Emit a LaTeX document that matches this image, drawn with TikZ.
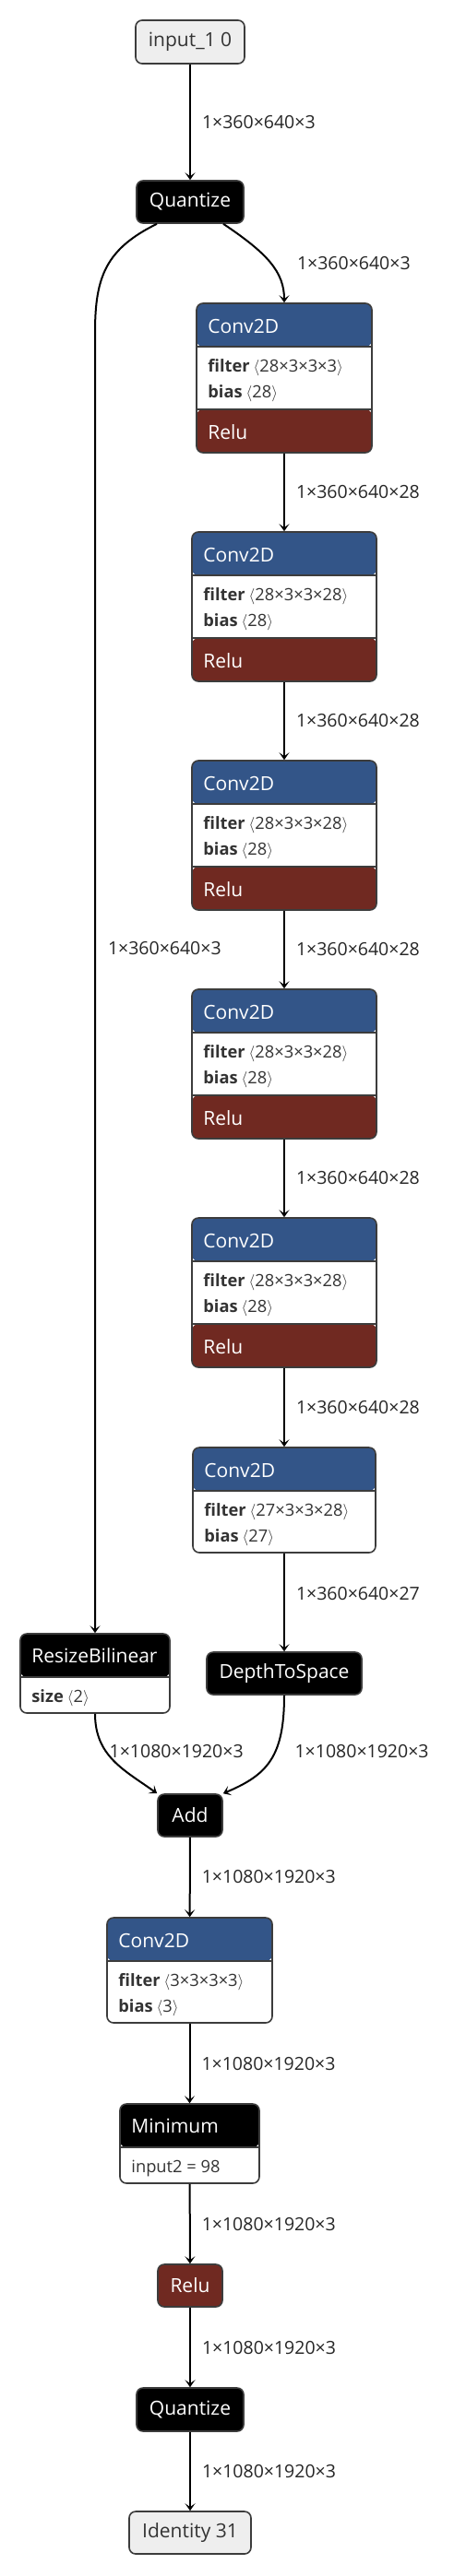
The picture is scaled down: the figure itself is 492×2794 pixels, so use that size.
\documentclass[tikz,border=0pt]{standalone}
\usepackage{fontspec}
\setmainfont{Open Sans}
\usetikzlibrary{arrows.meta}

\definecolor{convblue}{RGB}{51,85,136}
\definecolor{relured}{RGB}{112,41,33}
\definecolor{boxline}{RGB}{60,60,60}
\definecolor{iofill}{RGB}{238,238,238}
\newcommand{\ttlsize}{\fontsize{21}{25}\selectfont}
\newcommand{\attsize}{\fontsize{18.3}{22}\selectfont}
\newcommand{\lblsize}{\fontsize{19.5}{23}\selectfont}
\newcommand{\gap}{\hspace{4pt}}

\tikzset{
  op/.style={draw=boxline, line width=1.6pt, rounded corners=7pt, inner sep=0pt,
    minimum height=46pt, fill=black, text=white, font=\ttlsize},
  io/.style={op, fill=iofill, text=black!80},
  actv/.style={op, fill=relured},
  block/.style={draw=boxline, line width=1.6pt, rounded corners=7pt, inner sep=0pt},
  head/.style={block, preaction={fill=white, path picture={
    \fill[#1] (path picture bounding box.north west) rectangle ([yshift=-47pt]path picture bounding box.north east);
    \draw[boxline, line width=1.6pt] ([yshift=-47pt]path picture bounding box.north west) -- ([yshift=-47pt]path picture bounding box.north east);}}},
  headrelu/.style={block, preaction={fill=white, path picture={
    \fill[convblue] (path picture bounding box.north west) rectangle ([yshift=-47pt]path picture bounding box.north east);
    \fill[relured] (path picture bounding box.south west) rectangle ([yshift=47pt]path picture bounding box.south east);
    \draw[boxline, line width=1.6pt] ([yshift=-47pt]path picture bounding box.north west) -- ([yshift=-47pt]path picture bounding box.north east);
    \draw[boxline, line width=1.6pt] ([yshift=47pt]path picture bounding box.south west) -- ([yshift=47pt]path picture bounding box.south east);}}},
  ttl/.style={anchor=base west, inner sep=0pt, text=white, font=\ttlsize},
  att/.style={anchor=base west, inner sep=0pt, text=black!80, font=\attsize},
  edge/.style={draw, line width=2pt, -{Stealth[length=8pt,width=11pt,inset=4pt]}},
  lbl/.style={anchor=west, inner sep=0pt, xshift=12pt, text=black!85, font=\lblsize}
}

\begin{document}
\begin{tikzpicture}[x=1pt, y=-1pt]
  \path[use as bounding box, fill=white] (0,0) rectangle (492,2794);

  % input and first quantize
  \node[io, minimum width=118pt, minimum height=47pt] (in) at (206,45.5) {input\_1 0};
  \node[op, minimum width=116pt] (q1) at (206,219) {Quantize};

  % conv chain
  \node[headrelu, minimum width=190pt, minimum height=162pt] (c1) at (308,410) {};
  \node[ttl] (c1t) at ([xshift=13pt,yshift=-33pt]c1.north west) {Conv2D};
  \node[att] (c1f) at ([xshift=13pt,yshift=-75pt]c1.north west) {\textbf{filter}\gap $\langle$28×3×3×3$\rangle$};
  \node[att] (c1b) at ([xshift=13pt,yshift=-103pt]c1.north west) {\textbf{bias}\gap $\langle$28$\rangle$};
  \node[ttl] (c1r) at ([xshift=13pt,yshift=15pt]c1.south west) {Relu};

  \node[headrelu, minimum width=200pt, minimum height=162pt] (c2) at (308,658) {};
  \node[ttl] (c2t) at ([xshift=13pt,yshift=-33pt]c2.north west) {Conv2D};
  \node[att] (c2f) at ([xshift=13pt,yshift=-75pt]c2.north west) {\textbf{filter}\gap $\langle$28×3×3×28$\rangle$};
  \node[att] (c2b) at ([xshift=13pt,yshift=-103pt]c2.north west) {\textbf{bias}\gap $\langle$28$\rangle$};
  \node[ttl] (c2r) at ([xshift=13pt,yshift=15pt]c2.south west) {Relu};

  \node[headrelu, minimum width=200pt, minimum height=162pt] (c3) at (308,906) {};
  \node[ttl] (c3t) at ([xshift=13pt,yshift=-33pt]c3.north west) {Conv2D};
  \node[att] (c3f) at ([xshift=13pt,yshift=-75pt]c3.north west) {\textbf{filter}\gap $\langle$28×3×3×28$\rangle$};
  \node[att] (c3b) at ([xshift=13pt,yshift=-103pt]c3.north west) {\textbf{bias}\gap $\langle$28$\rangle$};
  \node[ttl] (c3r) at ([xshift=13pt,yshift=15pt]c3.south west) {Relu};

  \node[headrelu, minimum width=200pt, minimum height=162pt] (c4) at (308,1154) {};
  \node[ttl] (c4t) at ([xshift=13pt,yshift=-33pt]c4.north west) {Conv2D};
  \node[att] (c4f) at ([xshift=13pt,yshift=-75pt]c4.north west) {\textbf{filter}\gap $\langle$28×3×3×28$\rangle$};
  \node[att] (c4b) at ([xshift=13pt,yshift=-103pt]c4.north west) {\textbf{bias}\gap $\langle$28$\rangle$};
  \node[ttl] (c4r) at ([xshift=13pt,yshift=15pt]c4.south west) {Relu};

  \node[headrelu, minimum width=200pt, minimum height=162pt] (c5) at (308,1402) {};
  \node[ttl] (c5t) at ([xshift=13pt,yshift=-33pt]c5.north west) {Conv2D};
  \node[att] (c5f) at ([xshift=13pt,yshift=-75pt]c5.north west) {\textbf{filter}\gap $\langle$28×3×3×28$\rangle$};
  \node[att] (c5b) at ([xshift=13pt,yshift=-103pt]c5.north west) {\textbf{bias}\gap $\langle$28$\rangle$};
  \node[ttl] (c5r) at ([xshift=13pt,yshift=15pt]c5.south west) {Relu};

  \node[head=convblue, minimum width=198pt, minimum height=114pt] (c6) at (308,1627) {};
  \node[ttl] (c6t) at ([xshift=13pt,yshift=-33pt]c6.north west) {Conv2D};
  \node[att] (c6f) at ([xshift=13pt,yshift=-75pt]c6.north west) {\textbf{filter}\gap $\langle$27×3×3×28$\rangle$};
  \node[att] (c6b) at ([xshift=13pt,yshift=-103pt]c6.north west) {\textbf{bias}\gap $\langle$27$\rangle$};

  % upsampling
  \node[head=black, minimum width=162pt, minimum height=86pt] (rb) at (103,1815) {};
  \node[ttl] (rbt) at ([xshift=13pt,yshift=-32pt]rb.north west) {ResizeBilinear};
  \node[att] (rbs) at ([xshift=13pt,yshift=-75pt]rb.north west) {\textbf{size}\gap $\langle$2$\rangle$};
  \node[op, minimum width=168pt] (d2s) at (308,1815) {DepthToSpace};
  \node[op, minimum width=70pt] (add) at (206,1969) {Add};

  % tail
  \node[head=convblue, minimum width=179pt, minimum height=114pt] (c7) at (205.5,2137) {};
  \node[ttl] (c7t) at ([xshift=13pt,yshift=-33pt]c7.north west) {Conv2D};
  \node[att] (c7f) at ([xshift=13pt,yshift=-75pt]c7.north west) {\textbf{filter}\gap $\langle$3×3×3×3$\rangle$};
  \node[att] (c7b) at ([xshift=13pt,yshift=-103pt]c7.north west) {\textbf{bias}\gap $\langle$3$\rangle$};
  \node[head=black, minimum width=151pt, minimum height=86pt] (mn) at (205.5,2325) {};
  \node[ttl] (mnt) at ([xshift=13pt,yshift=-32pt]mn.north west) {Minimum};
  \node[att] (mni) at ([xshift=13pt,yshift=-75pt]mn.north west) {input2 = 98};
  \node[actv, minimum width=70pt] (relu) at (206,2479) {Relu};
  \node[op, minimum width=116pt, minimum height=47pt] (q2) at (206,2613.5) {Quantize};
  \node[io, minimum width=132pt] (out) at (206,2747) {Identity 31};

  % edges
  \draw[edge] (in) -- node[lbl]{1×360×640×3} (q1);
  \draw[edge] ([xshift=36pt]q1.south) .. controls (290,275) and (308,295) .. (c1.north)
    node[lbl, pos=0.5, xshift=16pt]{1×360×640×3};
  \draw[edge] ([xshift=-36pt]q1.south) .. controls (115,270) and (103,300) .. (103,360)
    -- node[lbl, pos=0.474, xshift=1pt]{1×360×640×3} (rb.north);
  \draw[edge] (c1) -- node[lbl]{1×360×640×28} (c2);
  \draw[edge] (c2) -- node[lbl]{1×360×640×28} (c3);
  \draw[edge] (c3) -- node[lbl]{1×360×640×28} (c4);
  \draw[edge] (c4) -- node[lbl]{1×360×640×28} (c5);
  \draw[edge] (c5) -- node[lbl]{1×360×640×28} (c6);
  \draw[edge] (c6) -- node[lbl, pos=0.41]{1×360×640×27} (d2s);
  \draw[edge] (rb.south) .. controls (103,1905) and (135,1920) .. (add.north west)
    node[lbl, pos=0.37, xshift=-9pt]{1×1080×1920×3};
  \draw[edge] (d2s.south) .. controls (308,1905) and (290,1925) .. (add.north east)
    node[lbl, pos=0.4, xshift=8pt]{1×1080×1920×3};
  \draw[edge] (add) -- node[lbl]{1×1080×1920×3} (c7);
  \draw[edge] (c7) -- node[lbl]{1×1080×1920×3} (mn);
  \draw[edge] (mn) -- node[lbl]{1×1080×1920×3} (relu);
  \draw[edge] (relu) -- node[lbl]{1×1080×1920×3} (q2);
  \draw[edge] (q2) -- node[lbl]{1×1080×1920×3} (out);
\end{tikzpicture}
\end{document}
